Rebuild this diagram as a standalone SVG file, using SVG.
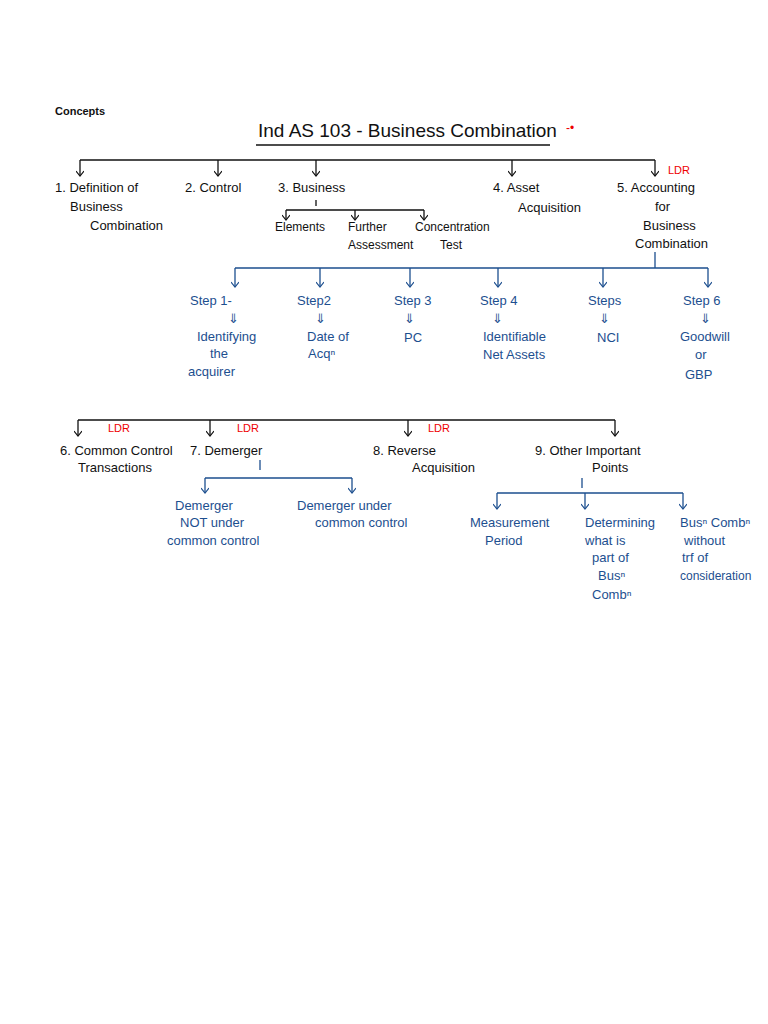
<svg xmlns="http://www.w3.org/2000/svg" width="768" height="1024" viewBox="0 0 768 1024">
<style>
text{font-family:"Liberation Sans",Arial,sans-serif;font-size:13px;fill:#111}
.b{fill:#1d4f8f}
.r{fill:#e00;font-size:11px}
.t{font-size:19px}
.c{font-size:11px;font-weight:bold}
.k{stroke:#111;stroke-width:1.3;fill:none}
.bl{stroke:#1d4f8f;stroke-width:1.3;fill:none}
</style>
<defs>
<marker id="ak" markerWidth="8" markerHeight="8" refX="4" refY="7" markerUnits="userSpaceOnUse"><path d="M0,2 L4,7 L8,2" fill="none" stroke="#111" stroke-width="1.2"/></marker>
<marker id="ab" markerWidth="8" markerHeight="8" refX="4" refY="7" markerUnits="userSpaceOnUse"><path d="M0,2 L4,7 L8,2" fill="none" stroke="#1d4f8f" stroke-width="1.2"/></marker>
</defs>
<rect width="768" height="1024" fill="#fff"/>
<text class="c" x="55" y="115">Concepts</text>
<g id="title"><text class="t" x="258" y="137">Ind AS 103 - Business Combination</text>
<line x1="256" y1="145" x2="550" y2="145" stroke="#111" stroke-width="1.3"/>
<text x="566" y="132" style="fill:#e00;font-size:12px">-•</text></g>
<g id="connectors">
<path class="k" d="M80,160 H655"/>
<g class="k" marker-end="url(#ak)"><path d="M80,160 V176"/><path d="M218,160 V176"/><path d="M316,160 V176"/><path d="M512,160 V176"/><path d="M655,160 V176"/></g>
<path class="k" d="M316,200 V206 M286,210 H424"/>
<g class="k" marker-end="url(#ak)"><path d="M286,210 V220"/><path d="M355,210 V220"/><path d="M424,210 V220"/></g>
<path class="bl" d="M655,252 V268 M235,268 H708"/>
<g class="bl" marker-end="url(#ab)"><path d="M235,268 V287"/><path d="M320,268 V287"/><path d="M410,268 V287"/><path d="M498,268 V287"/><path d="M603,268 V287"/><path d="M708,268 V287"/></g>
<path class="k" d="M78,420 H615"/>
<g class="k" marker-end="url(#ak)"><path d="M78,420 V436"/><path d="M210,420 V436"/><path d="M408,420 V436"/><path d="M615,420 V436"/></g>
<path class="bl" d="M260,460 V470 M205,478 H352"/>
<g class="bl" marker-end="url(#ab)"><path d="M205,478 V493"/><path d="M352,478 V493"/></g>
<path class="bl" d="M582,478 V488 M497,493 H683"/>
<g class="bl" marker-end="url(#ab)"><path d="M497,493 V509"/><path d="M585,493 V509"/><path d="M683,493 V509"/></g>
</g>
<g id="n1"><text x="55" y="192">1. Definition of</text><text x="70" y="211">Business</text><text x="90" y="230">Combination</text></g>
<g id="n2"><text x="185" y="192">2. Control</text></g>
<g id="n3"><text x="278" y="192">3. Business</text></g>
<g id="n3a"><text x="275" y="231" style="font-size:12px">Elements</text></g>
<g id="n3b"><text x="348" y="231" style="font-size:12px">Further</text><text x="348" y="249" style="font-size:12px">Assessment</text></g>
<g id="n3c"><text x="415" y="231" style="font-size:12px">Concentration</text><text x="440" y="249" style="font-size:12px">Test</text></g>
<g id="n4"><text x="493" y="192">4. Asset</text><text x="518" y="212">Acquisition</text></g>
<g id="n5"><text class="r" x="668" y="174">LDR</text><text x="617" y="192">5. Accounting</text><text x="655" y="211">for</text><text x="643" y="230">Business</text><text x="635" y="248">Combination</text></g>
<g id="s1"><text class="b" x="190" y="305">Step 1-</text><text class="b" x="228" y="323">⇓</text><text class="b" x="197" y="341">Identifying</text><text class="b" x="210" y="358">the</text><text class="b" x="188" y="376">acquirer</text></g>
<g id="s2"><text class="b" x="297" y="305">Step2</text><text class="b" x="315" y="323">⇓</text><text class="b" x="307" y="341">Date of</text><text class="b" x="308" y="358">Acqⁿ</text></g>
<g id="s3"><text class="b" x="394" y="305">Step 3</text><text class="b" x="404" y="323">⇓</text><text class="b" x="404" y="342">PC</text></g>
<g id="s4"><text class="b" x="480" y="305">Step 4</text><text class="b" x="492" y="323">⇓</text><text class="b" x="483" y="341">Identifiable</text><text class="b" x="483" y="359">Net Assets</text></g>
<g id="s5"><text class="b" x="588" y="305">Steps</text><text class="b" x="599" y="323">⇓</text><text class="b" x="597" y="342">NCI</text></g>
<g id="s6"><text class="b" x="683" y="305">Step 6</text><text class="b" x="700" y="323">⇓</text><text class="b" x="680" y="341">Goodwill</text><text class="b" x="695" y="359">or</text><text class="b" x="685" y="379">GBP</text></g>
<g id="n6"><text class="r" x="108" y="432">LDR</text><text x="60" y="455">6. Common Control</text><text x="78" y="472">Transactions</text></g>
<g id="n7"><text class="r" x="237" y="432">LDR</text><text x="190" y="455">7. Demerger</text></g>
<g id="n7a"><text class="b" x="175" y="510">Demerger</text><text class="b" x="180" y="527">NOT under</text><text class="b" x="167" y="545">common control</text></g>
<g id="n7b"><text class="b" x="297" y="510">Demerger under</text><text class="b" x="315" y="527">common control</text></g>
<g id="n8"><text class="r" x="428" y="432">LDR</text><text x="373" y="455">8. Reverse</text><text x="412" y="472">Acquisition</text></g>
<g id="n9"><text x="535" y="455">9. Other Important</text><text x="592" y="472">Points</text></g>
<g id="n9a"><text class="b" x="470" y="527">Measurement</text><text class="b" x="485" y="545">Period</text></g>
<g id="n9b"><text class="b" x="585" y="527">Determining</text><text class="b" x="585" y="545">what is</text><text class="b" x="592" y="562">part of</text><text class="b" x="598" y="580">Busⁿ</text><text class="b" x="592" y="599">Combⁿ</text></g>
<g id="n9c"><text class="b" x="680" y="527">Busⁿ Combⁿ</text><text class="b" x="684" y="545">without</text><text class="b" x="682" y="562">trf of</text><text class="b" x="680" y="580" style="font-size:12px">consideration</text></g>
</svg>
